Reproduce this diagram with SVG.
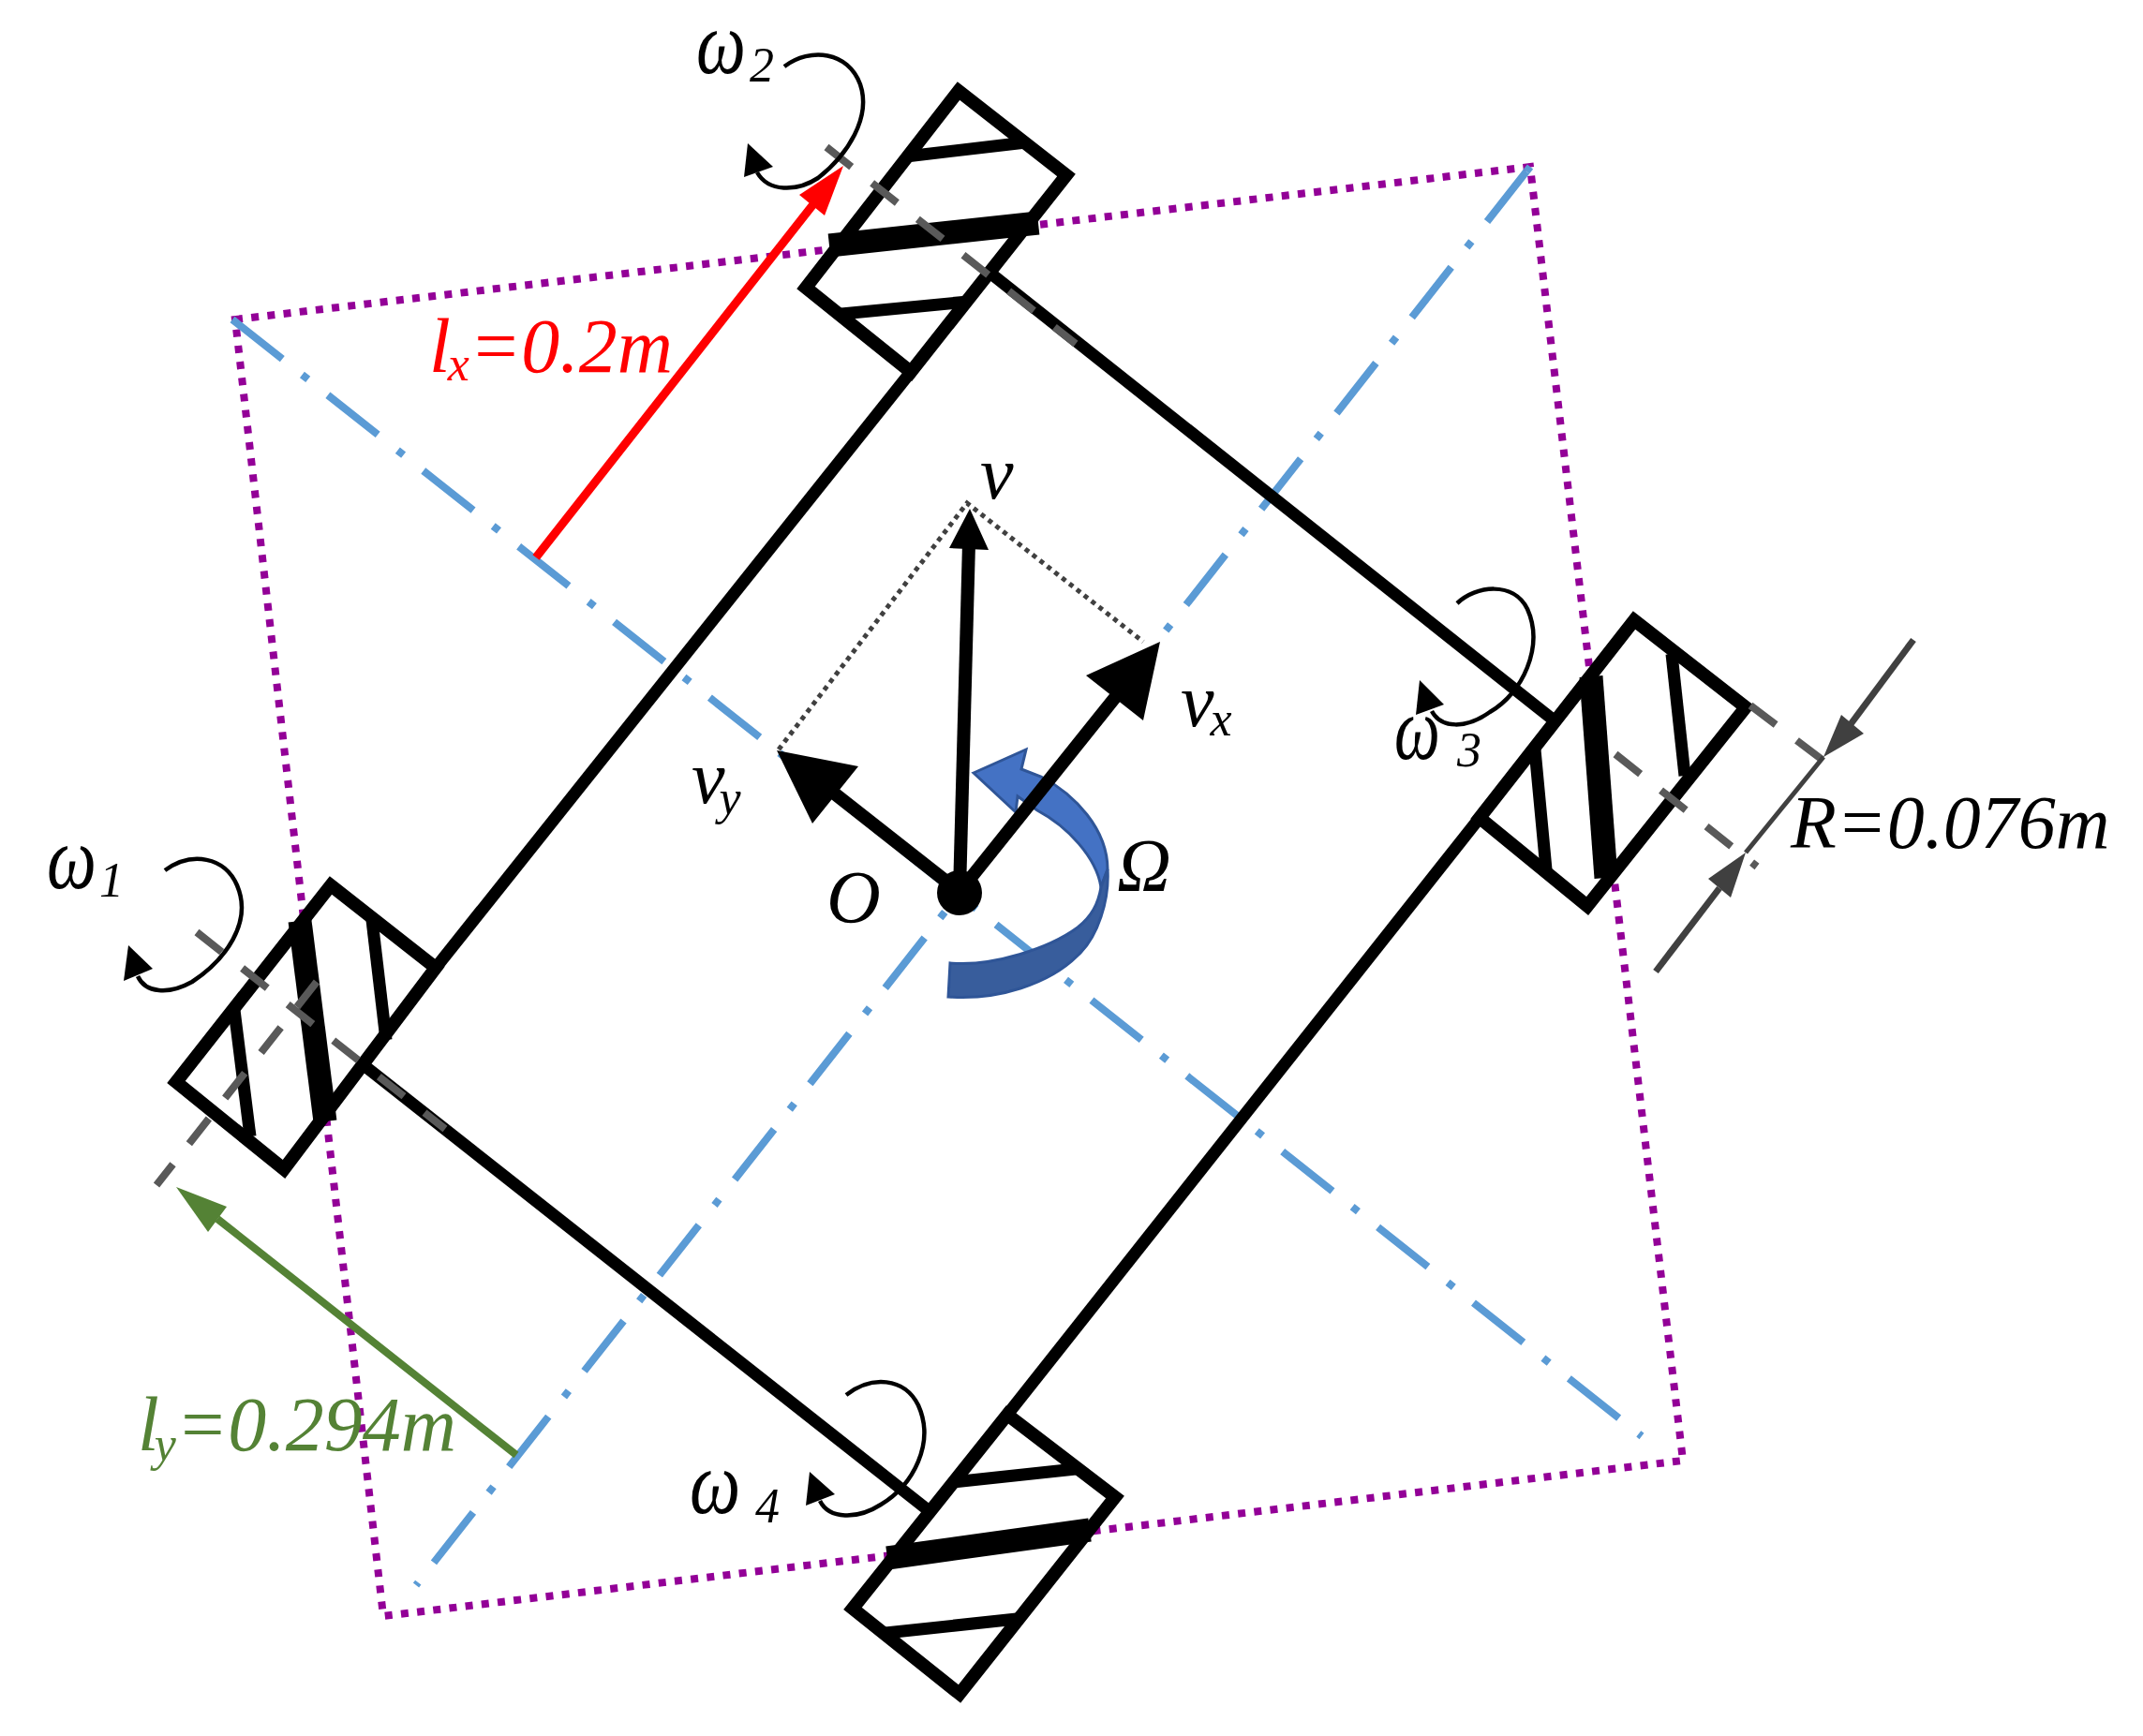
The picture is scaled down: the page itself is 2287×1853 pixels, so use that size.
<svg xmlns="http://www.w3.org/2000/svg" width="2287" height="1853" viewBox="0 0 2287 1853">
<style>
.wheel{fill:#fff;stroke:#000;stroke-width:14;stroke-linejoin:miter}
.hatch{stroke:#000;stroke-width:13;fill:none}
.bar{stroke:#000;stroke-width:25;fill:none}
.body{stroke:#000;stroke-width:13;fill:none}
.axis{stroke:#595959;stroke-width:8;stroke-dasharray:34 28;fill:none}
.center{stroke:#5B9BD5;stroke-width:8;stroke-dasharray:68 27 8 27;fill:none}
.spin{stroke:#000;stroke-width:4.5;fill:none}
.dots{stroke:#404040;stroke-width:5;stroke-dasharray:5 5;fill:none}
.t{font-family:"Liberation Serif","Times New Roman",serif;font-style:italic;font-size:80px;fill:#000}
.m{font-size:82px}
.w{font-size:96px}
.s{font-size:52px}
.vec{stroke:#000;stroke-width:14;fill:none}
</style>
<rect width="2287" height="1853" fill="#fff"/>
<polygon id="frame" points="251,341 1633,178 1796,1559 409,1725" fill="none" stroke="#930097" stroke-width="8" stroke-dasharray="8 9.3"/>
<g id="centerlines">
<line class="center" x1="248" y1="341" x2="1752" y2="1533"/>
<line class="center" x1="1629" y1="183" x2="444" y2="1692"/>
<line x1="1633" y1="178" x2="1629" y2="183" stroke="#5B9BD5" stroke-width="8"/>
</g>
<g id="chassis">
<polyline class="body" points="1055,290 1656,767"/>
<polyline class="body" points="392,1140 988,1610"/>
<polyline class="body" points="972,397 465,1033"/>
<polyline class="body" points="1579,873 1075,1510"/>
</g>
<g id="wheel1">
<polygon class="wheel" points="353,945 465,1033 303,1248 188,1155"/>
<line class="hatch" x1="397" y1="982" x2="412" y2="1110"/>
<line class="bar" x1="320" y1="983" x2="347" y2="1197"/>
<line class="hatch" x1="250" y1="1078" x2="267" y2="1213"/>
</g>
<g id="wheel2">
<polygon class="wheel" points="1023,97 1138,187 972,397 860,307"/>
<line class="hatch" x1="967" y1="167" x2="1095" y2="152"/>
<line class="bar" x1="885" y1="262" x2="1108" y2="238"/>
<line class="hatch" x1="898" y1="335" x2="1033" y2="322"/>
</g>
<g id="wheel3">
<polygon class="wheel" points="1744,662 1863,755 1694,967 1579,873"/>
<line class="hatch" x1="1784" y1="698" x2="1798" y2="828"/>
<line class="bar" x1="1698" y1="722" x2="1714" y2="937"/>
<line class="hatch" x1="1638" y1="800" x2="1650" y2="928"/>
</g>
<g id="wheel4">
<polygon class="wheel" points="1075,1510 1190,1598 1024,1808 910,1717"/>
<line class="hatch" x1="1017" y1="1582" x2="1148" y2="1568"/>
<line class="bar" x1="947" y1="1663" x2="1163" y2="1633"/>
<line class="hatch" x1="945" y1="1743" x2="1085" y2="1728"/>
</g>
<g id="connectors">
<line class="axis" x1="210" y1="995" x2="475" y2="1205"/>
<line class="axis" x1="338" y1="1048" x2="167" y2="1265"/>
<line class="axis" x1="882" y1="157" x2="1148" y2="367"/>
<line class="axis" x1="1724" y1="805" x2="1875" y2="925"/>
<line class="axis" x1="1868" y1="753" x2="1950" y2="815"/>
<line x1="2042" y1="683" x2="1975" y2="773" stroke="#404040" stroke-width="7"/>
<line x1="1946" y1="808" x2="1863" y2="910" stroke="#404040" stroke-width="5"/>
<line x1="1767" y1="1037" x2="1835" y2="948" stroke="#404040" stroke-width="7"/>
<polygon points="1946,808 1965,763 1989,783" fill="#404040"/>
<polygon points="1863,910 1823,938 1847,958" fill="#404040"/>
<line x1="572" y1="595" x2="868" y2="218" stroke="#f00" stroke-width="9"/>
<polygon points="900,177 853,208 880,230" fill="#f00"/>
<line x1="551" y1="1553" x2="232" y2="1301" stroke="#548235" stroke-width="8"/>
<polygon points="188,1267 242,1288 222,1315" fill="#548235"/>
<polyline class="dots" points="831,800 1032,537 1220,685"/>
<path d="M1039,825 L1095,800 L1090,821 L1111,829 C1147,848 1182,885 1182,928 L1175,947 C1170,915 1139,882 1107,865 L1086,850 L1084,867 Z" fill="#4472C4" stroke="#2F5597" stroke-width="3"/>
<path d="M1182,928 C1184,960 1172,1000 1150,1020 C1120,1050 1065,1068 1012,1064 L1014,1028 C1060,1032 1120,1012 1150,990 C1165,978 1172,965 1175,947 Z" fill="#385D9C" stroke="#2F5597" stroke-width="3"/>
<line class="vec" x1="1024" y1="952" x2="1034" y2="580"/>
<polygon points="1035,543 1013,585 1055,587" fill="#000"/>
<line class="vec" x1="1024" y1="952" x2="1192" y2="742"/>
<polygon points="1238,685 1159,721 1220,769" fill="#000"/>
<line class="vec" x1="1024" y1="952" x2="888" y2="845"/>
<polygon points="829,801 916,818 867,879" fill="#000"/>
<circle cx="1024" cy="953" r="24" fill="#000"/>
<path class="spin" d="M176,929 C205,908 240,915 253,945 C270,985 240,1025 205,1048 C180,1062 155,1060 147,1042"/>
<polygon points="137,1009 132,1047 163,1034" fill="#000"/>
<path class="spin" d="M837,71 C865,50 905,55 918,90 C930,125 905,165 873,190 C850,205 820,205 808,184"/>
<polygon points="798,153 794,189 825,178" fill="#000"/>
<path class="spin" d="M1555,644 C1575,625 1615,620 1630,650 C1648,690 1625,740 1590,760 C1565,778 1538,778 1528,759"/>
<polygon points="1515,726 1511,763 1541,752" fill="#000"/>
<path class="spin" d="M903,1489 C930,1468 965,1470 980,1500 C998,1540 975,1585 940,1606 C915,1622 885,1622 875,1602"/>
<polygon points="864,1571 860,1607 891,1595" fill="#000"/>
</g>
<g id="labels">
<text class="t w" transform="translate(50,948) scale(.78,1)">ω</text><text class="t s" x="106" y="957">1</text>
<text class="t w" transform="translate(743,78) scale(.78,1)">ω</text><text class="t s" x="800" y="87">2</text>
<text class="t w" transform="translate(1488,810) scale(.72,1)">ω</text><text class="t s" x="1555" y="818">3</text>
<text class="t w" transform="translate(736,1615) scale(.8,1)">ω</text><text class="t s" x="806" y="1625">4</text>
<text class="t" x="1046" y="532">v</text>
<text class="t" x="1260" y="775">v<tspan class="s" dx="-4" dy="10">x</tspan></text>
<text class="t" x="738" y="857">v<tspan class="s" dx="-6" dy="12">y</tspan></text>
<text class="t" x="882" y="985">O</text>
<text class="t" x="1192" y="951">Ω</text>
<text class="t" x="1911" y="905">R=0.076m</text>
<text class="t m" x="458" y="397" style="fill:#f00">l<tspan class="s" dx="-3" dy="9">x</tspan><tspan dy="-9">=0.2m</tspan></text>
<text class="t m" x="147" y="1548" style="fill:#548235">l<tspan class="s" dx="-5" dy="11">y</tspan><tspan dy="-11">=0.294m</tspan></text>
</g>
</svg>
